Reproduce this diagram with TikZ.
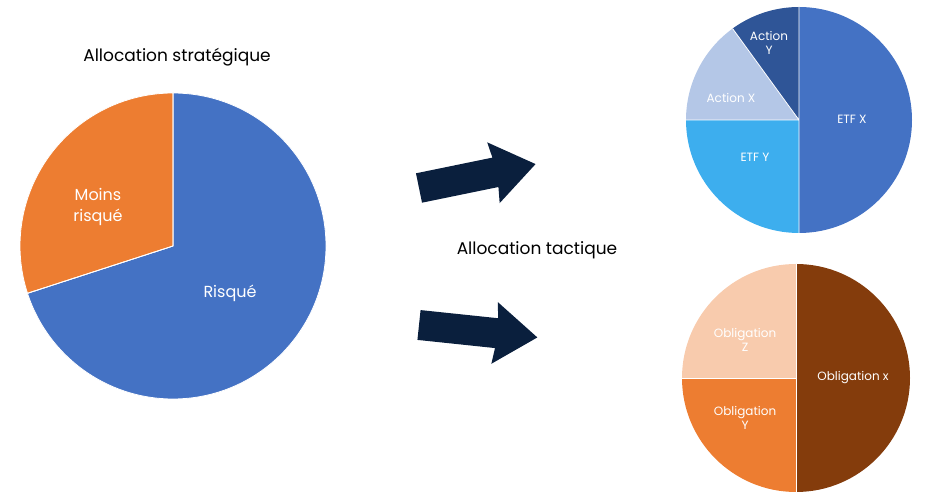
\documentclass[tikz,border=0pt]{standalone}
\usepackage{fontspec}
\setmainfont{Poppins}
\definecolor{cblue}{HTML}{4472C4}
\definecolor{corange}{HTML}{ED7D31}
\definecolor{clight}{HTML}{3DAEEE}
\definecolor{csteel}{HTML}{B4C7E7}
\definecolor{cdark}{HTML}{2F5597}
\definecolor{cbrown}{HTML}{843C0C}
\definecolor{cpeach}{HTML}{F8CBAD}
\definecolor{cnavy}{HTML}{0A1F3D}
\begin{document}
\begin{tikzpicture}[x=1pt,y=1pt,
  slice/.style={draw=white,line width=0.8pt},
  lbl/.style={text=white,align=center,font=\fontsize{12}{14}\selectfont},
  big/.style={text=white,align=center,font=\fontsize{16}{21}\selectfont},
  title/.style={text=black,font=\fontsize{17}{20}\selectfont},
  arr/.style={fill=cnavy}]
\useasboundingbox (0,0) rectangle (929,503);
% left pie
\coordinate (L) at (173,257);
\fill[slice,fill=cblue] (L) -- ++(90:153) arc (90:-162:153) -- cycle;
\fill[slice,fill=corange] (L) -- ++(90:153) arc (90:198:153) -- cycle;
\draw[white,line width=0.8pt] (L) -- ++(90:153) (L) -- ++(198:153);
\node[big] (mr) at (98,296) {Moins\\risqué};
\node[big] (ri) at (230,210) {Risqué};
\node[title] (t1) at (177,446) {Allocation stratégique};
\node[title] (t2) at (537,253) {Allocation tactique};
% top pie
\coordinate (T) at (799,383);
\fill[fill=cblue] (T) -- ++(90:113) arc (90:-90:113) -- cycle;
\fill[fill=clight] (T) -- ++(180:113) arc (180:270:113) -- cycle;
\fill[fill=csteel] (T) -- ++(126:113) arc (126:180:113) -- cycle;
\fill[fill=cdark] (T) -- ++(90:113) arc (90:126:113) -- cycle;
\draw[white,line width=0.8pt] (T) -- ++(90:113) (T) -- ++(-90:113) (T) -- ++(180:113) (T) -- ++(126:113);
\node[lbl] (ay) at (769,460) {Action\\Y};
\node[lbl] (ax) at (731,405) {Action X};
\node[lbl] (ex) at (852,384) {ETF X};
\node[lbl] (ey) at (755,346) {ETF Y};
% bottom pie
\coordinate (B) at (796,125);
\fill[fill=cbrown] (B) -- ++(90:114) arc (90:-90:114) -- cycle;
\fill[fill=corange] (B) -- ++(180:114) arc (180:270:114) -- cycle;
\fill[fill=cpeach] (B) -- ++(90:114) arc (90:180:114) -- cycle;
\draw[white,line width=0.8pt] (B) -- ++(90:114) (B) -- ++(-90:114) (B) -- ++(180:114);
\node[lbl] (oz) at (745,163) {Obligation\\Z};
\node[lbl] (oy) at (745,85) {Obligation\\Y};
\node[lbl] (ox) at (853,125) {Obligation x};
% arrows
\begin{scope}[shift={(419,315)},rotate=11.6]
\fill[arr] (0,-15) -- (78,-15) -- (76,-31) -- (119,0) -- (76,31) -- (78,15) -- (0,15) -- cycle;
\end{scope}
\begin{scope}[shift={(419,178)},rotate=-6]
\fill[arr] (0,-15) -- (78,-15) -- (76,-31) -- (119,0) -- (76,31) -- (78,15) -- (0,15) -- cycle;
\end{scope}
\end{tikzpicture}
\end{document}
